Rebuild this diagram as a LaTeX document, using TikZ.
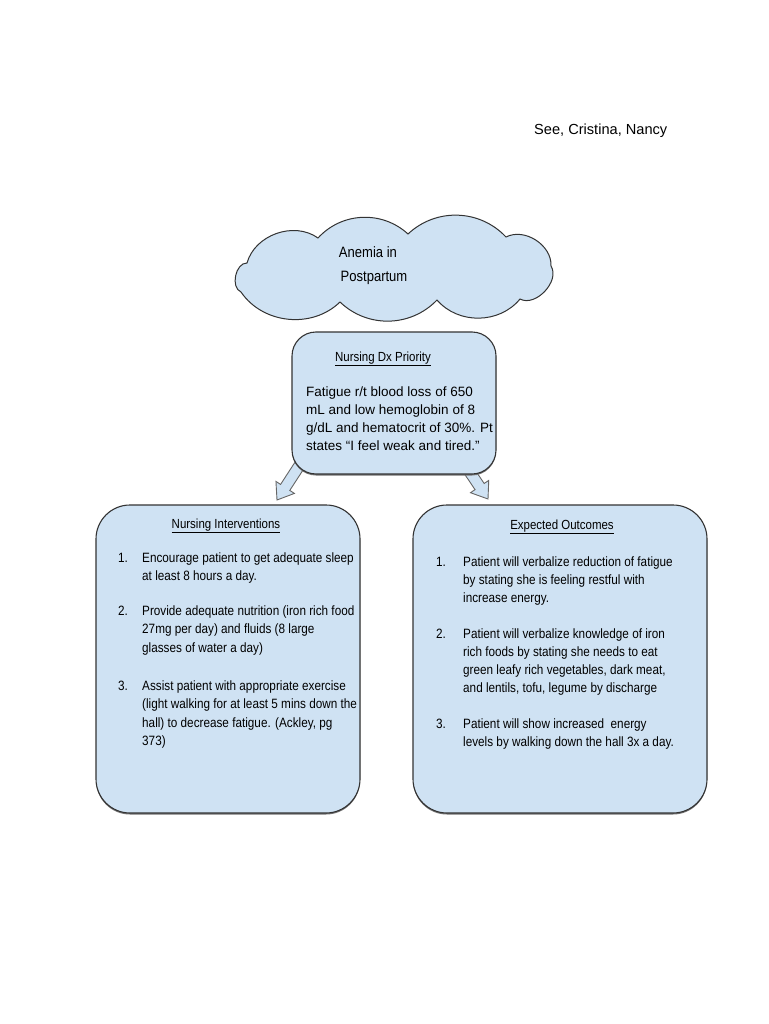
\documentclass[tikz,border=0pt]{standalone}
\usepackage{fontspec}
\setmainfont{Liberation Sans}
\newfontfamily\narrowfont[FakeStretch=0.87]{Liberation Sans}
\definecolor{boxfill}{HTML}{CFE2F3}
\definecolor{boxline}{HTML}{333333}
\definecolor{arrline}{HTML}{666666}
\tikzset{
  panel/.style={draw=boxline, line width=1.1pt, fill=boxfill, rounded corners=#1},
  panelshadow/.style={fill=black!55, rounded corners=#1},
  blockarrow/.style={draw=arrline, line width=0.9pt, fill=boxfill, line join=miter},
  cloudline/.style={draw=boxline, line width=1pt, fill=boxfill},
  body/.style={anchor=base west, inner sep=0pt, font=\narrowfont\fontsize{13.5}{18.5}\selectfont},
  cbody/.style={anchor=base west, inner sep=0pt, font=\fontsize{13.5}{18.3}\selectfont},
  title/.style={anchor=base, inner sep=0pt, font=\narrowfont\fontsize{13.2}{15}\selectfont},
}
\begin{document}
\begin{tikzpicture}[x=1pt,y=1pt]
\useasboundingbox[fill=white] (0,0) rectangle (768,-1024);
% header
\node[anchor=base west, inner sep=0pt, font=\fontsize{14.6}{16}\selectfont] (hdr) at (534,-135) {See, Cristina, Nancy};
% cloud
\coordinate (p1) at (241,-292);
\coordinate (p2) at (247,-263);
\coordinate (p3) at (318,-238);
\coordinate (p4) at (408,-234);
\coordinate (p5) at (506,-237);
\coordinate (p6) at (551,-266);
\coordinate (p7) at (520,-299);
\coordinate (p8) at (437,-300);
\coordinate (p9) at (340,-302);
\draw[cloudline] (p1) to[bend left=80] (p2) to[bend left=55] (p3) to[bend left=45] (p4)
  to[bend left=45] (p5) to[bend left=60] (p6) to[bend left=75] (p7) to[bend left=50] (p8)
  to[bend left=45] (p9) to[bend left=50] (p1) -- cycle;
\node[anchor=base, inner sep=0pt, font=\narrowfont\fontsize{15}{24}\selectfont] (ctxt1) at (368,-257) {Anemia in};
\node[anchor=base, inner sep=0pt, font=\narrowfont\fontsize{15}{24}\selectfont] (ctxt2) at (374,-281) {Postpartum};
% arrows (drawn first so boxes cover their tails)
\begin{scope}[shift={(277,-500)}, rotate=237]
  \draw[blockarrow] (0,0) -- (-15,11) -- (-15,5.5) -- (-52,5.5) -- (-52,-5.5) -- (-15,-5.5) -- (-15,-11) -- cycle;
  \coordinate (arrL) at (0,0);
\end{scope}
\begin{scope}[shift={(488,-499)}, rotate=-56]
  \draw[blockarrow] (0,0) -- (-15,11) -- (-15,5.5) -- (-52,5.5) -- (-52,-5.5) -- (-15,-5.5) -- (-15,-11) -- cycle;
  \coordinate (arrR) at (0,0);
\end{scope}
% center box
\fill[panelshadow=24pt] (292,-333.5) rectangle (496,-475.5);
\draw[panel=24pt] (292,-332) rectangle (496,-474);
\node[title] (ctitle) at (383,-361) {\underline{Nursing Dx Priority}};
\node[cbody] (ctext) at (306,-396) {\parbox[t]{190pt}{\raggedright
Fatigue r/t blood loss of 650\\ mL and low hemoglobin of 8\\ g/dL and hematocrit of 30\%. Pt\\ states “I feel weak and tired.”}};
% left box
\fill[panelshadow=34pt] (96,-506.5) rectangle (360,-814.5);
\draw[panel=34pt] (96,-505) rectangle (360,-813);
\node[title] (ltitle) at (226,-528) {\underline{Nursing Interventions}};
\node[body] (ln1) at (118,-562) {1.};
\node[body] (lt1) at (142,-562) {\parbox[t]{260pt}{\raggedright Encourage patient to get adequate sleep\\ at least 8 hours a day.}};
\node[body] (ln2) at (118,-615) {2.};
\node[body] (lt2) at (142,-615) {\parbox[t]{260pt}{\raggedright Provide adequate nutrition (iron rich food\\ 27mg per day) and fluids (8 large\\ glasses of water a day)}};
\node[body] (ln3) at (118,-690) {3.};
\node[body] (lt3) at (142,-690) {\parbox[t]{260pt}{\raggedright Assist patient with appropriate exercise\\ (light walking for at least 5 mins down the\\ hall) to decrease fatigue. (Ackley, pg\\ 373)}};
% right box
\fill[panelshadow=34pt] (413,-506.5) rectangle (707,-814.5);
\draw[panel=34pt] (413,-505) rectangle (707,-813);
\node[title] (rtitle) at (562,-529) {\underline{Expected Outcomes}};
\node[body] (rn1) at (436,-566) {1.};
\node[body] (rt1) at (463,-566) {\parbox[t]{260pt}{\raggedright\baselineskip=18pt Patient will verbalize reduction of fatigue\\ by stating she is feeling restful with\\ increase energy.}};
\node[body] (rn2) at (436,-638) {2.};
\node[body] (rt2) at (463,-638) {\parbox[t]{260pt}{\raggedright\baselineskip=18pt Patient will verbalize knowledge of iron\\ rich foods by stating she needs to eat\\ green leafy rich vegetables, dark meat,\\ and lentils, tofu, legume by discharge}};
\node[body] (rn3) at (436,-728) {3.};
\node[body] (rt3) at (463,-728) {\parbox[t]{260pt}{\raggedright\baselineskip=18pt Patient will show increased\ \ energy\\ levels by walking down the hall 3x a day.}};
\end{tikzpicture}
\end{document}
